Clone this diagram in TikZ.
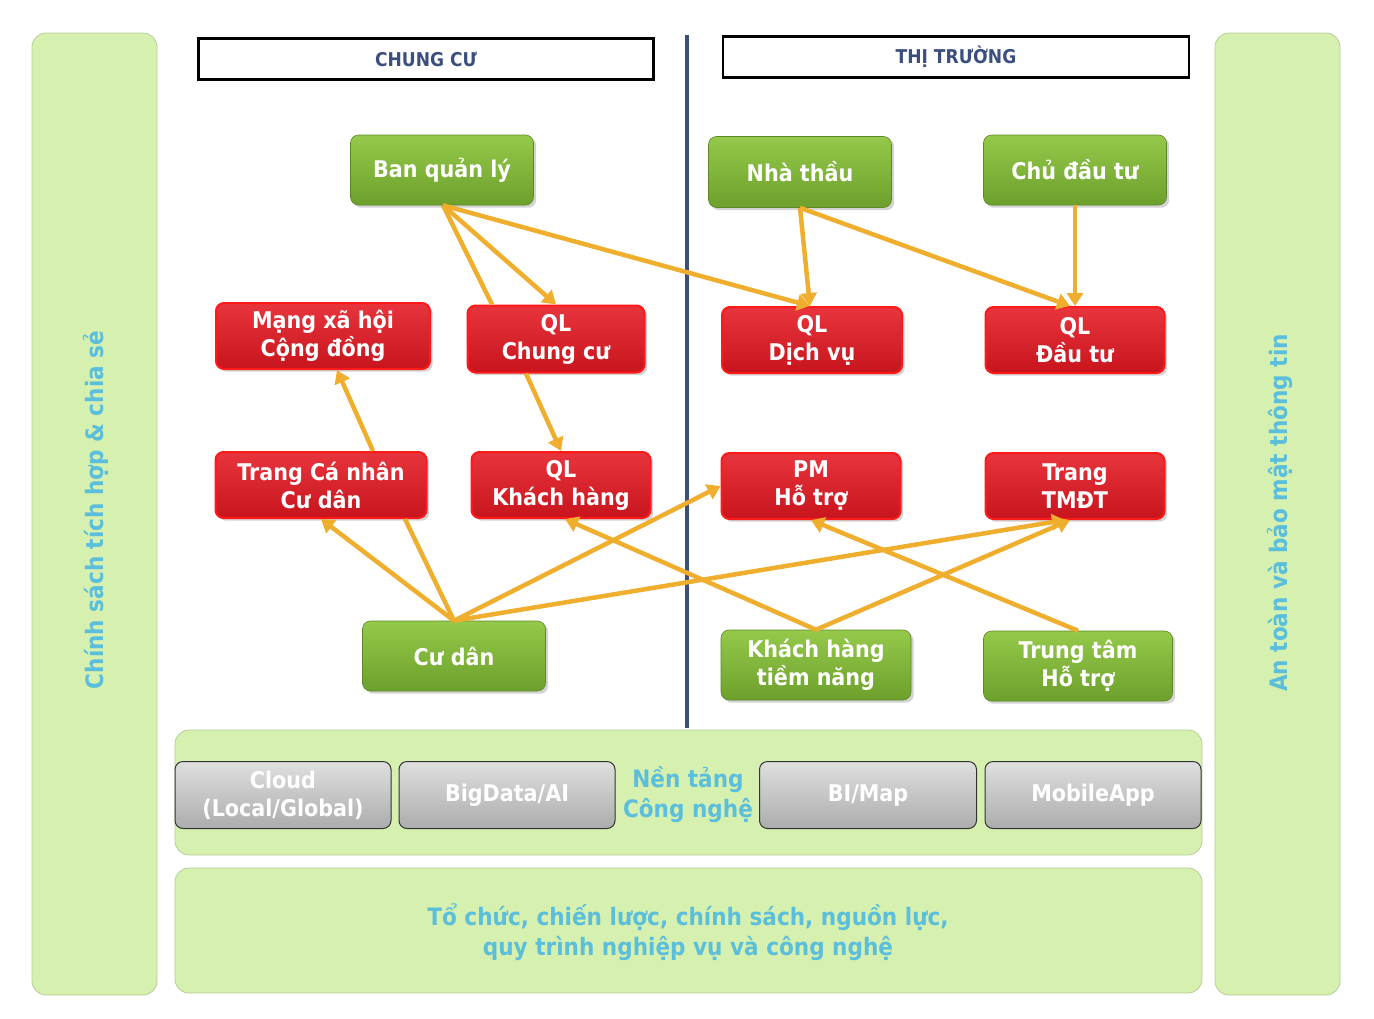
\documentclass[tikz,border=0pt]{standalone}
\usepackage{fontspec}
\setmainfont{DejaVu Sans Condensed}
\usetikzlibrary{arrows.meta,shadows}
\definecolor{gA}{HTML}{94C94A}\definecolor{gB}{HTML}{6DA02C}
\definecolor{rA}{HTML}{E8343C}\definecolor{rB}{HTML}{C8141C}
\definecolor{arr}{HTML}{F0AE2E}\definecolor{lg}{HTML}{D6F0B0}\definecolor{lb}{HTML}{5BBFDC}
\definecolor{nav}{HTML}{3B4F7F}
\begin{document}
\begin{tikzpicture}[x=1pt,y=-1pt,
 gn/.style={rounded corners=8pt,top color=gA,bottom color=gB,draw=gB!85!black,line width=0.6pt,drop shadow={opacity=0.35},text=white,font=\bfseries\fontsize{23}{28}\selectfont,align=center},
 rn/.style={rounded corners=8pt,top color=rA,bottom color=rB,draw=red!90,line width=2pt,drop shadow={opacity=0.35},text=white,font=\bfseries\fontsize{23}{28}\selectfont,align=center},
 gy/.style={rounded corners=8pt,top color=gray!25,bottom color=gray!65,draw=gray!40!black,line width=1pt,text=white,font=\bfseries\fontsize{23}{28}\selectfont,align=center},
 pan/.style={rounded corners=14pt,fill=lg,draw=gB!50,line width=0.8pt},
 ar/.style={draw=arr,line width=4.5pt,-{Triangle[length=13pt,width=16pt]}},
 ln/.style={draw=arr,line width=4.5pt},
 lab/.style={text=lb,font=\bfseries\fontsize{24}{30}\selectfont,align=center}]
\useasboundingbox (0,0) rectangle (1374,1018);
% side bars
\draw[pan] (32,33) rectangle (157,995);
\draw[pan] (1215,33) rectangle (1340,995);
\node[lab,rotate=90] (ls) at (96,510) {Chính sách tích hợp \& chia sẻ};
\node[lab,rotate=90] (rs) at (1280,513) {An toàn và bảo mật thông tin};
% headers
\node[draw,line width=2.5pt,minimum width=455,minimum height=41,text=nav,font=\bfseries\fontsize{19}{21}\selectfont] (h1) at (426,59) {CHUNG CƯ};
\node[draw,line width=2.5pt,minimum width=466,minimum height=41,text=nav,font=\bfseries\fontsize{19}{21}\selectfont] (h2) at (956,57) {THỊ TRƯỜNG};
\coordinate (vt) at (687,35); \coordinate (vb) at (687,728);
\draw[nav,line width=4pt] (vt) -- (vb);
% platform
\draw[pan] (175,730) rectangle (1202,855);
\draw[pan] (175,868) rectangle (1202,993);
\node[gy,minimum width=216,minimum height=67] (c1) at (283,795) {Cloud\\(Local/Global)};
\node[gy,minimum width=216,minimum height=67] (c2) at (507,795) {BigData/AI};
\node[lab] (nt) at (688,795) {Nền tảng\\Công nghệ};
\node[gy,minimum width=217,minimum height=67] (c3) at (868,795) {BI/Map};
\node[gy,minimum width=216,minimum height=67] (c4) at (1093,795) {MobileApp};
\node[lab] (bt) at (688,932) {Tổ chức, chiến lược, chính sách, nguồn lực,\\quy trình nghiệp vụ và công nghệ};
% nodes
\node[gn,minimum width=183,minimum height=70] (ban) at (442,170) {Ban quản lý};
\node[gn,minimum width=183,minimum height=71] (nha) at (800,172) {Nhà thầu};
\node[gn,minimum width=183,minimum height=70] (chu) at (1075,170) {Chủ đầu tư};
\node[rn,minimum width=214,minimum height=66] (mxh) at (323,336) {Mạng xã hội\\Cộng đồng};
\node[rn,minimum width=177,minimum height=67] (qlc) at (556,339) {QL\\Chung cư};
\node[rn,minimum width=180,minimum height=66] (qld) at (812,340) {QL\\Dịch vụ};
\node[rn,minimum width=179,minimum height=66] (qlt) at (1075,340) {QL\\Đầu tư};
\node[rn,minimum width=211,minimum height=66] (tcn) at (321,485) {Trang Cá nhân\\Cư dân};
\node[rn,minimum width=179,minimum height=66] (qlk) at (561,485) {QL\\Khách hàng};
\node[rn,minimum width=179,minimum height=66] (pm) at (811,486) {PM\\Hỗ trợ};
\node[rn,minimum width=179,minimum height=66] (tm) at (1075,486) {Trang\\TMĐT};
\node[gn,minimum width=183,minimum height=70] (cd) at (454,656) {Cư dân};
\node[gn,minimum width=190,minimum height=70] (kh) at (816,665) {Khách hàng\\tiềm năng};
\node[gn,minimum width=189,minimum height=70] (tt) at (1078,666) {Trung tâm\\Hỗ trợ};
% connectors
\coordinate (banb) at ([xshift=1pt]ban.south);
\draw[ln] (banb) -- ([xshift=-64pt]qlc.north);
\draw[ar] (banb) -- (qlc.north);
\draw[ar] (banb) -- ([xshift=-2pt]qld.north);
\draw[ar] (nha.south) -- ([xshift=-2pt]qld.north);
\draw[ar] (nha.south) -- ([xshift=-5pt]qlt.north);
\draw[ar] (chu.south) -- (qlt.north);
\draw[ar] ([xshift=-30pt]qlc.south) -- (qlk.north);
\draw[ar] ([xshift=52pt]tcn.north) -- ([xshift=14pt]mxh.south);
\coordinate (cdt) at (cd.north);
\draw[ar] (cdt) -- (tcn.south);
\draw[ln] (cdt) -- ([xshift=84pt]tcn.south);
\draw[ar] (cdt) -- (pm.west);
\draw[ar] (cdt) -- ([xshift=-10pt]tm.south);
\draw[ar] (kh.north) -- ([xshift=4pt]qlk.south);
\draw[ar] (kh.north) -- ([xshift=-5pt]tm.south);
\draw[ar] (tt.north) -- (pm.south);
\end{tikzpicture}
\end{document}
